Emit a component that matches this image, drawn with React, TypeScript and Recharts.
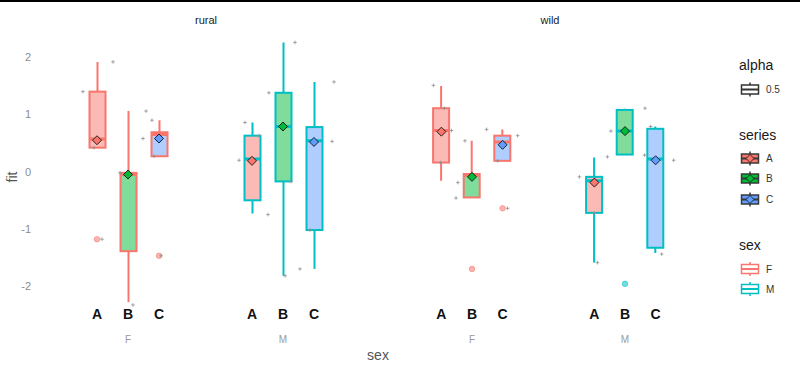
import React from "react";
import { ComposedChart, Bar, Scatter, XAxis, YAxis } from "recharts";

document.body.style.margin = "0";

const FONT = '"Liberation Sans", Arial, Helvetica, sans-serif';

const facets = ["rural", "wild"];
const sexes = ["F", "M"];
const seriesNames = ["A", "B", "C"];
const yTicks = [-2, -1, 0, 1, 2];

// one entry per box: rural F A,B,C | rural M A,B,C | wild F A,B,C | wild M A,B,C
const lowWhisker = [0.42, -2.28, 0.27, -0.73, -1.82, -1.7, -0.16, -0.45, 0.19, -1.59, 0.3, -1.42];
const lowerHinge = [0.42, -1.39, 0.27, -0.5, -0.17, -1.02, 0.16, -0.45, 0.19, -0.72, 0.3, -1.33];
const medians = [0.57, -0.05, 0.65, 0.22, 0.79, 0.54, 0.72, -0.06, 0.52, -0.16, 0.71, 0.22];
const upperHinge = [1.4, -0.02, 0.69, 0.63, 1.38, 0.78, 1.11, -0.04, 0.63, -0.09, 1.08, 0.75];
const highWhisker = [1.92, 1.06, 0.9, 0.86, 2.26, 1.57, 1.5, 0.54, 0.74, 0.25, 1.1, 0.79];
const means = [0.55, -0.05, 0.58, 0.19, 0.79, 0.52, 0.7, -0.09, 0.47, -0.19, 0.71, 0.2];
const outliers = [-1.18, null, -1.47, null, null, null, null, -1.7, -0.64, null, -1.96, null];

// raw points (jittered), offset read as a fraction of the box width
const jitterValues = [
  [1.92, 1.4, 0.42, -1.18],
  [1.06, -0.02, -2.33],
  [0.9, 0.58, 0.27, -1.47],
  [0.86, 0.63, 0.2, -0.75],
  [2.26, 1.38, -0.17, -1.82],
  [1.57, 0.53, -1.02, -1.7],
  [1.51, 1.11, 0.72, 0.16],
  [0.54, -0.19, -0.46],
  [0.74, 0.63, 0.19, -0.64],
  [0.26, -0.09, -0.72, -1.59],
  [1.11, 0.71],
  [0.79, 0.29, 0.2, -1.44],
];
const jitterOffsets = [
  [1.0, -0.88, -0.19, 0.31],
  [1.13, -0.5, 0.31],
  [-0.44, -1.0, -0.31, 0.13],
  [-0.44, 0.44, -0.81, 1.0],
  [0.75, -0.88, 0.5, 0.13],
  [1.25, 1.13, -0.25, -0.88],
  [-0.5, 0.19, 0.63, -0.06],
  [-0.44, -0.88, -1.0],
  [-1.0, 0.94, -0.31, 0.31],
  [0.81, -0.94, 0, 0.19],
  [1.25, -0.88],
  [-0.31, -0.69, 1.13, 0.38],
];

const sexColors: Record<string, string> = { F: "#F8766D", M: "#00BFC4" };
const seriesColors: Record<string, string> = { A: "#F8766D", B: "#00BA38", C: "#619CFF" };
const BOX_W = 16;

function buildRows(f: number) {
  const fac = facets[f];
  const rows: any[] = [{ id: `${fac}-pad0` }];
  sexes.forEach((sex, s) => {
    seriesNames.forEach((ser, k) => {
      const i = f * 6 + s * 3 + k;
      const row: any = {
        id: `${fac}-${sex}-${ser}`,
        sex,
        series: ser,
        lo: lowWhisker[i],
        q1: lowerHinge[i],
        med: medians[i],
        q3: upperHinge[i],
        hi: highWhisker[i],
        range: [lowWhisker[i], highWhisker[i]],
        mean: means[i],
        outlier: outliers[i],
        jdx: jitterOffsets[i],
      };
      jitterValues[i].forEach((v, n) => (row[`j${n}`] = v));
      rows.push(row);
    });
    if (s === 0) rows.push({ id: `${fac}-gap0` }, { id: `${fac}-gap1` });
  });
  rows.push({ id: `${fac}-pad1` });
  return rows;
}

function BoxShape(props: any) {
  const { x, y, width, height, payload } = props;
  if (!payload || payload.lo == null || height == null) return <g />;
  const top = Math.min(y, y + height);
  const h = Math.abs(height);
  const k = h / (payload.hi - payload.lo);
  const py = (v: number) => top + (payload.hi - v) * k;
  const cx = x + width / 2;
  const stroke = sexColors[payload.sex];
  const fill = seriesColors[payload.series];
  return (
    <g>
      <line x1={cx} x2={cx} y1={py(payload.hi)} y2={py(payload.q3)} stroke={stroke} strokeWidth={2} />
      <line x1={cx} x2={cx} y1={py(payload.q1)} y2={py(payload.lo)} stroke={stroke} strokeWidth={2} />
      <rect
        x={x}
        y={py(payload.q3)}
        width={width}
        height={py(payload.q1) - py(payload.q3)}
        fill={fill}
        fillOpacity={0.5}
        stroke={stroke}
        strokeWidth={2}
      />
      <line x1={x} x2={x + width} y1={py(payload.med)} y2={py(payload.med)} stroke={stroke} strokeWidth={3} />
    </g>
  );
}

function MeanShape(props: any) {
  const { cx, cy, payload } = props;
  if (!payload || payload.mean == null) return <g />;
  const r = 4.5;
  return (
    <polygon
      points={`${cx},${cy - r} ${cx + r},${cy} ${cx},${cy + r} ${cx - r},${cy}`}
      fill={seriesColors[payload.series]}
      stroke="#111"
      strokeWidth={0.9}
    />
  );
}

function OutlierShape(props: any) {
  const { cx, cy, payload } = props;
  if (!payload || payload.outlier == null) return <g />;
  const c = sexColors[payload.sex];
  return <circle cx={cx} cy={cy} r={2.8} fill={c} fillOpacity={0.55} stroke={c} strokeOpacity={0.5} />;
}

const jitterShape = (n: number) => (props: any) => {
  const { cx, cy, payload } = props;
  if (!payload || payload[`j${n}`] == null) return <g />;
  const px = cx + payload.jdx[n] * BOX_W;
  return (
    <g stroke="#8f8f8f" strokeWidth={0.8}>
      <line x1={px - 1.8} x2={px + 1.8} y1={cy} y2={cy} />
      <line x1={px} x2={px} y1={cy - 1.8} y2={cy + 1.8} />
    </g>
  );
};

function SeriesTick(props: any) {
  const { x, y, payload } = props;
  const parts = String(payload.value).split("-");
  if (parts.length < 3) return <g />;
  return (
    <text x={x} y={y + 4.4} dy="0.35em" textAnchor="middle" fontSize={14} fontWeight="bold" fill="#111" fontFamily={FONT}>
      {parts[2]}
    </text>
  );
}

function SexTick(props: any) {
  const { x, y, payload } = props;
  const parts = String(payload.value).split("-");
  if (parts.length < 3 || parts[2] !== "B") return <g />;
  return (
    <text x={x} y={y + 5.2} dy="0.35em" textAnchor="middle" fontSize={10} fill="#9a9a9a" fontFamily={FONT}>
      {parts[1]}
    </text>
  );
}

function Facet({ f, width, margin, showY }: { f: number; width: number; margin: any; showY: boolean }) {
  const rows = buildRows(f);
  return (
    <ComposedChart width={width} height={369} data={rows} margin={margin}>
      <XAxis
        xAxisId="series"
        dataKey="id"
        type="category"
        allowDuplicatedCategory={false}
        interval={0}
        height={24}
        axisLine={false}
        tickLine={false}
        tickSize={0}
        tickMargin={0}
        tick={<SeriesTick />}
      />
      <XAxis
        xAxisId="sex"
        dataKey="id"
        type="category"
        allowDuplicatedCategory={false}
        interval={0}
        height={24}
        axisLine={false}
        tickLine={false}
        tickSize={0}
        tickMargin={0}
        tick={<SexTick />}
      />
      <YAxis
        type="number"
        domain={[-2.42, 2.35]}
        allowDataOverflow
        ticks={yTicks}
        hide={!showY}
        width={50.5}
        axisLine={false}
        tickLine={false}
        tickSize={0}
        tickMargin={19.5}
        tick={{ fontSize: 11, fill: "#8c8c8c", fontFamily: FONT }}
      />
      <Bar xAxisId="series" dataKey="range" barSize={BOX_W} shape={BoxShape} isAnimationActive={false} />
      <Scatter xAxisId="series" dataKey="outlier" shape={OutlierShape} isAnimationActive={false} />
      {[0, 1, 2, 3].map((n) => (
        <Scatter key={n} xAxisId="series" dataKey={`j${n}`} shape={jitterShape(n)} isAnimationActive={false} />
      ))}
      <Scatter xAxisId="series" dataKey="mean" shape={MeanShape} isAnimationActive={false} />
    </ComposedChart>
  );
}

function KeyIcon({ cx, cy, stroke, fill, diamond }: any) {
  return (
    <g>
      <line x1={cx} x2={cx} y1={cy - 7} y2={cy + 7} stroke={stroke} strokeWidth={1.5} />
      <rect x={cx - 8.5} y={cy - 4.5} width={17} height={9} fill={fill || "#fff"} stroke={stroke} strokeWidth={1.5} />
      <line x1={cx - 8.5} x2={cx + 8.5} y1={cy} y2={cy} stroke={stroke} strokeWidth={2} />
      {diamond && (
        <polygon
          points={`${cx},${cy - 4} ${cx + 4},${cy} ${cx},${cy + 4} ${cx - 4},${cy}`}
          fill={fill}
          stroke="#111"
          strokeWidth={0.8}
        />
      )}
    </g>
  );
}

function LegendPanel() {
  const lx = 750;
  const tx = 766;
  const seriesY = [158.5, 178.5, 199.5];
  const sexY = [269, 289];
  return (
    <svg width={800} height={369} style={{ position: "absolute", left: 0, top: 0, pointerEvents: "none" }} fontFamily={FONT}>
      <text x={739} y={70} fontSize={14} fill="#1a1a1a">alpha</text>
      <KeyIcon cx={lx} cy={89.5} stroke="#333" />
      <text x={tx} y={93} fontSize={10} fill="#333">0.5</text>
      <text x={739} y={140} fontSize={14} fill="#1a1a1a">series</text>
      {seriesNames.map((s, i) => (
        <g key={s}>
          <KeyIcon cx={lx} cy={seriesY[i]} stroke="#3a3a3a" fill={seriesColors[s]} diamond />
          <text x={tx} y={seriesY[i] + 3.6} fontSize={10} fill="#333">{s}</text>
        </g>
      ))}
      <text x={739} y={250} fontSize={14} fill="#1a1a1a">sex</text>
      {sexes.map((s, i) => (
        <g key={s}>
          <KeyIcon cx={lx} cy={sexY[i]} stroke={sexColors[s]} />
          <text x={tx} y={sexY[i] + 3.6} fontSize={10} fill="#333">{s}</text>
        </g>
      ))}
    </svg>
  );
}

const labelStyle: React.CSSProperties = { position: "absolute", fontFamily: FONT, whiteSpace: "nowrap" };

export default function App() {
  return (
    <div style={{ position: "relative", width: 800, height: 369, background: "#fff", overflow: "hidden" }}>
      <div style={{ position: "absolute", left: 0, top: 0, width: 800, height: 2, background: "#000" }} />
      <div style={{ position: "absolute", left: 0, top: 0 }}>
        <Facet f={0} width={362} margin={{ top: 37.3, right: 1.5, bottom: 10.9, left: 0 }} showY />
      </div>
      <div style={{ position: "absolute", left: 380, top: 0 }}>
        <Facet f={1} width={330} margin={{ top: 37.3, right: 8.5, bottom: 10.9, left: 15.5 }} showY={false} />
      </div>
      <div style={{ ...labelStyle, left: 206, top: 19.5, transform: "translate(-50%, -50%)", fontSize: 11, color: "#1a1a1a" }}>
        {facets[0]}
      </div>
      <div style={{ ...labelStyle, left: 550, top: 19.5, transform: "translate(-50%, -50%)", fontSize: 11, color: "#1a1a1a" }}>
        {facets[1]}
      </div>
      <div
        style={{
          ...labelStyle,
          left: 12,
          top: 177,
          transform: "translate(-50%, -50%) rotate(-90deg)",
          fontSize: 14,
          color: "#555",
        }}
      >
        fit
      </div>
      <div style={{ ...labelStyle, left: 378, top: 354.5, transform: "translate(-50%, -50%)", fontSize: 14, color: "#555" }}>
        sex
      </div>
      <LegendPanel />
    </div>
  );
}
